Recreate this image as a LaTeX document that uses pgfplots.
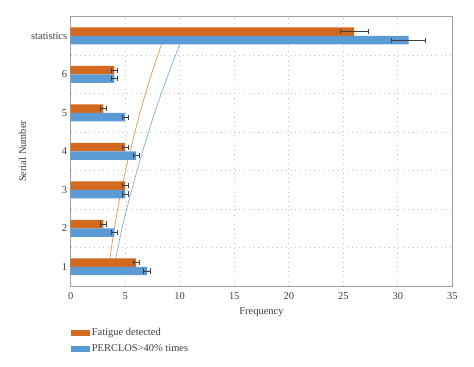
\documentclass[border=0pt]{standalone}
\usepackage{pgfplots}
\pgfplotsset{compat=1.18}
\usepackage{fontspec}
\setmainfont{Liberation Serif}
\definecolor{myorange}{HTML}{D2691F}
\definecolor{myblue}{HTML}{5B9BD5}
\definecolor{lorange}{HTML}{E39550}
\definecolor{lblue}{HTML}{7FAEDD}
\definecolor{errc}{HTML}{404040}
\begin{document}
\begin{tikzpicture}
\path[use as bounding box] (-70.7bp,-81bp) rectangle (403.3bp,286bp);
\begin{axis}[
  at={(0,0)}, anchor=south west,
  scale only axis, width=381.6bp, height=269.3bp,
  xmin=0, xmax=35, ymin=0.5, ymax=7.5,
  xtick={0,5,...,35},
  ytick={1,2,3,4,5,6,7},
  yticklabels={1,2,3,4,5,6,statistics},
  minor ytick={1.5,2.5,...,6.5},
  xmajorgrids, yminorgrids,
  grid style={gray!45, line width=0.7pt, dash pattern=on 0.7pt off 4pt},
  minor grid style={gray!45, line width=0.7pt, dash pattern=on 0.7pt off 4pt},
  major tick length=0pt, minor tick length=0pt,
  axis line style={gray!75, line width=0.8pt},
  tick label style={font=\fontsize{10.5}{12}\selectfont, text=black!75},
  xticklabel style={yshift=-3bp},
  /pgf/number format/assume math mode=true,
  xlabel={Frequency}, ylabel={Serial Number},
  label style={font=\fontsize{10.5}{12}\selectfont, text=black!75},
  xlabel style={yshift=-1bp},
  ylabel style={yshift=-2bp},
  xbar, bar width=0.22,
  legend style={at={(0,0)}, anchor=north west, xshift=-3bp, yshift=-38bp,
    draw=none, fill=none, font=\fontsize{10.5}{12}\selectfont, text=black!75,
    cells={anchor=west}, row sep=4bp},
  legend image code/.code={\fill[#1] (0bp,-3bp) rectangle (19bp,3bp);},
]
\addplot[xbar=false, forget plot, lorange, line width=0.7pt, smooth] coordinates {
 (3.5,1) (4.0,2) (4.65,3) (5.45,4) (6.35,5) (7.4,6) (8.6,7)};
\addplot[xbar=false, forget plot, lblue, line width=0.7pt, smooth] coordinates {
 (4.0,1) (4.7,2) (5.6,3) (6.6,4) (7.7,5) (8.95,6) (10.3,7)};
\addplot[fill=myorange, draw=none, bar shift=0.11,
  error bars/.cd, x dir=both, x explicit, error mark=|,
  error bar style={errc, line width=0.6pt},
  error mark options={errc, mark size=2.6bp, line width=0.6pt}]
 coordinates {
 (6,1) +- (0.3,0)
 (3,2) +- (0.3,0)
 (5,3) +- (0.3,0)
 (5,4) +- (0.3,0)
 (3,5) +- (0.3,0)
 (4,6) +- (0.3,0)
 (26,7) +- (1.3,0)};
\addlegendentry{Fatigue detected}
\addplot[fill=myblue, draw=none, bar shift=-0.11,
  error bars/.cd, x dir=both, x explicit, error mark=|,
  error bar style={errc, line width=0.6pt},
  error mark options={errc, mark size=2.6bp, line width=0.6pt}]
 coordinates {
 (7,1) +- (0.3,0)
 (4,2) +- (0.3,0)
 (5,3) +- (0.3,0)
 (6,4) +- (0.3,0)
 (5,5) +- (0.3,0)
 (4,6) +- (0.3,0)
 (31,7) +- (1.55,0)};
\addlegendentry{PERCLOS>40\% times}
\end{axis}
\end{tikzpicture}
\end{document}
